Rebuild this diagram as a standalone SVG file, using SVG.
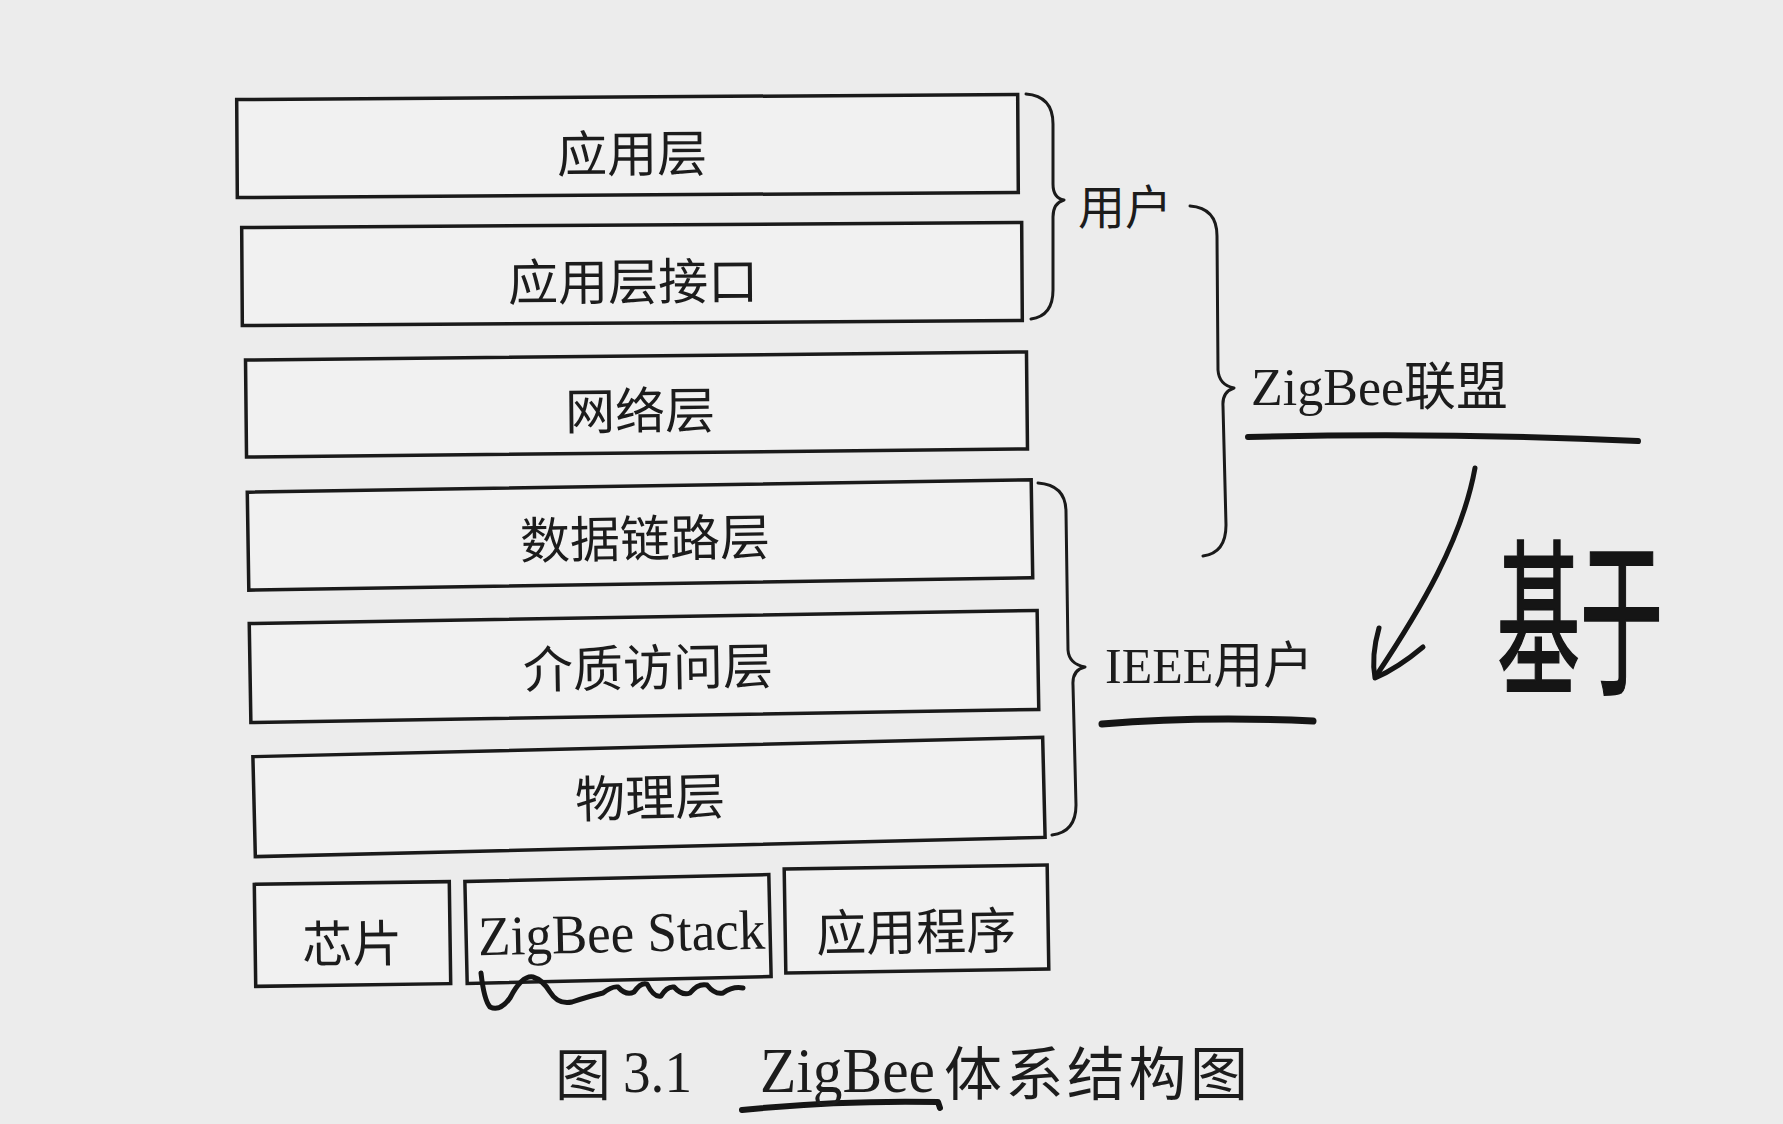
<svg xmlns="http://www.w3.org/2000/svg" width="1783" height="1124" viewBox="0 0 1783 1124">
<style>
.box{fill:#f1f1f1;stroke:#1a1a1a;stroke-width:3.5}
.cn{font-family:"Noto Sans CJK SC","Noto Sans",sans-serif;font-size:50px;fill:#1c1c1c;text-anchor:middle}
.lat{font-family:"Liberation Serif","Noto Sans CJK SC",serif;fill:#1c1c1c}
.brace{fill:none;stroke:#1a1a1a;stroke-width:3;stroke-linecap:round;stroke-linejoin:round}
.ink{fill:none;stroke:#151515;stroke-linecap:round;stroke-linejoin:round}
</style>
<rect x="0" y="0" width="1783" height="1124" fill="#ececec"/>

<g id="layer-app" transform="rotate(-0.37 627.5 146)">
<rect class="box" x="237" y="97" width="781" height="98"/>
<text class="cn" x="632" y="172">应用层</text>
</g>
<g id="layer-app-interface" transform="rotate(-0.37 632 274)">
<rect class="box" x="242" y="225" width="780" height="98"/>
<text class="cn" x="633" y="300">应用层接口</text>
</g>
<g id="layer-network" transform="rotate(-0.6 636.5 404.5)">
<rect class="box" x="246" y="356" width="781" height="97"/>
<text class="cn" x="640" y="429">网络层</text>
</g>
<g id="layer-datalink" transform="rotate(-0.9 640 535)">
<rect class="box" x="248" y="486" width="784" height="98"/>
<text class="cn" x="645" y="557">数据链路层</text>
</g>
<g id="layer-mac" transform="rotate(-0.95 644 666)">
<rect class="box" x="250" y="617" width="788" height="99"/>
<text class="cn" x="648" y="686">介质访问层</text>
</g>
<g id="layer-phy" transform="rotate(-1.4 649 797)">
<rect class="box" x="254" y="747" width="790" height="100"/>
<text class="cn" x="650" y="816">物理层</text>
</g>
<g id="chip" transform="rotate(-0.8 352.5 934)">
<rect class="box" x="255" y="883" width="195" height="102"/>
<text class="cn" x="352" y="962">芯片</text>
</g>
<g id="zigbee-stack" transform="rotate(-1.3 618 929)">
<rect class="box" x="466" y="878" width="304" height="102"/>
<text class="lat" x="478" y="952" font-size="56" textLength="287" lengthAdjust="spacingAndGlyphs">ZigBee Stack</text>
</g>
<g id="application" transform="rotate(-0.9 916.5 919.5)">
<rect class="box" x="785" y="867" width="263" height="104"/>
<text class="cn" x="916" y="950">应用程序</text>
</g>

<g id="connectors">
<path class="brace" d="M1026,94 Q1053,96 1053,124 L1053,184 Q1053,198 1064,200 Q1053,203 1053,217 L1053,290 Q1053,316 1031,319"/>
<path class="brace" d="M1190,206 Q1217,208 1217,236 L1218,370 Q1219,385 1234,388 Q1222,392 1223,406 L1226,525 Q1226,553 1203,556"/>
<path class="brace" d="M1038,483 Q1066,485 1066,512 L1068,650 Q1069,664 1085,667 Q1072,670 1073,685 L1076,805 Q1076,832 1052,835"/>
<path class="ink" stroke-width="5" d="M1475,468 C1462,540 1420,610 1376,676"/>
<path class="ink" stroke-width="5" d="M1379,628 Q1371,656 1375,678 Q1398,668 1423,647"/>
</g>

<g id="labels">
<text class="cn" x="1078" y="224" style="font-size:47px;text-anchor:start">用户</text>
<text class="lat" x="1251" y="405" font-size="52">ZigBee联盟</text>
<text class="lat" x="1105" y="683" font-size="50">IEEE用户</text>
</g>

<g id="handwriting">
<text x="0" y="0" font-family="'Noto Sans CJK SC',sans-serif" font-size="82" font-weight="400" fill="#151515" stroke="#151515" stroke-width="1" textLength="166" lengthAdjust="spacingAndGlyphs" transform="translate(1497,682) scale(1,2.05)">基于</text>
<path class="ink" stroke-width="6" d="M1248,437 Q1440,432 1638,441"/>
<path class="ink" stroke-width="7" d="M1102,724 Q1200,716 1313,721"/>
<path class="ink" stroke-width="6" d="M742,1110 Q840,1100 938,1102 L940,1108"/>
<path class="ink" stroke-width="5" d="M481,973 Q484,1000 490,1007 Q500,1012 510,998 Q522,975 533,977 Q543,980 550,992 Q558,1005 572,1002 Q590,996 603,993 Q612,986 618,987 Q626,996 634,992 Q641,982 647,984 Q654,998 661,996 Q667,986 674,987 Q682,996 690,993 Q698,983 707,985 Q715,995 723,993 Q733,986 743,988"/>
</g>

<g id="caption">
<text class="cn" x="555" y="1095" style="font-size:56px;text-anchor:start">图</text>
<text class="lat" x="623" y="1092" font-size="60" textLength="69" lengthAdjust="spacingAndGlyphs">3.1</text>
<text class="lat" x="760" y="1092" font-size="64" textLength="175" lengthAdjust="spacingAndGlyphs">ZigBee</text>
<text class="cn" x="944" y="1095" textLength="304" lengthAdjust="spacing" style="font-size:58px;text-anchor:start">体系结构图</text>
</g>
</svg>
